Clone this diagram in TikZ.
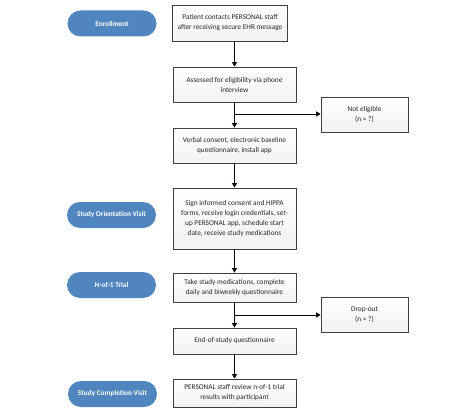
\documentclass[tikz,border=0pt]{standalone}
\usepackage{fontspec}
\setmainfont{Carlito}
\usetikzlibrary{arrows.meta,shapes.misc}
\definecolor{phase}{HTML}{4F86C0}
\definecolor{boxline}{HTML}{404040}
\tikzset{
  stepbox/.style={draw=boxline,line width=0.8pt,top color=white,bottom color=gray!10,
    align=center,font=\fontsize{7.3}{10}\selectfont,text=black!85,inner sep=1pt},
  phasebox/.style={rounded rectangle,fill=phase,text=white,font=\fontsize{7.3}{9}\selectfont\bfseries,
    minimum width=89pt,minimum height=26pt,inner sep=0pt},
  flow/.style={draw=black,line width=0.9pt,-{Triangle[length=4.5pt,width=5pt]}}
}
\begin{document}
\begin{tikzpicture}[x=1pt,y=-1pt]
\useasboundingbox (0,0) rectangle (474,420);
% main steps
\node[stepbox,minimum width=115pt,minimum height=36pt] (s1) at (230,23) {Patient contacts PERSONAL staff\\after receiving secure EHR message};
\node[stepbox,minimum width=123pt,minimum height=35pt] (s2) at (234.5,84.5) {Assessed for eligibility via phone\\interview};
\node[stepbox,minimum width=123pt,minimum height=35pt] (s3) at (234.5,145.5) {Verbal consent, electronic baseline\\questionnaire, install app};
\node[stepbox,minimum width=123pt,minimum height=61pt] (s4) at (234.5,218.5) {Sign informed consent and HIPPA\\forms, receive login credentials, set-\\up PERSONAL app, schedule start\\date, receive study medications};
\node[stepbox,minimum width=123pt,minimum height=29pt] (s5) at (234.5,287.5) {Take study medications, complete\\daily and biweekly questionnaire};
\node[stepbox,minimum width=123pt,minimum height=26pt] (s6) at (234.5,341) {End-of-study questionnaire};
\node[stepbox,minimum width=123pt,minimum height=28pt] (s7) at (234.5,393) {PERSONAL staff review n-of-1 trial\\results with participant};
% side boxes
\node[stepbox,minimum width=87pt,minimum height=35pt] (ne) at (364.5,114.5) {Not eligible\\(n = ?)};
\node[stepbox,minimum width=87pt,minimum height=35pt] (do) at (364.5,314.5) {Drop-out\\(n = ?)};
% phases
\node[phasebox] (p1) at (112,23.5) {Enrollment};
\node[phasebox] (p2) at (111.5,215) {Study Orientation Visit};
\node[phasebox] (p3) at (111.5,285) {N-of-1 Trial};
\node[phasebox] (p4) at (112.5,394) {Study Completion Visit};
% connectors
\draw[flow] (s1.south -| s2.north) -- (s2.north);
\draw[flow] (s2) -- (s3);
\draw[flow] (s3) -- (s4);
\draw[flow] (s4) -- (s5);
\draw[flow] (s5) -- (s6);
\draw[flow] (s6) -- (s7);
\coordinate (j1) at (234.5,114);
\draw[flow] (j1) -- (ne.west |- j1);
\coordinate (j2) at (234.5,315);
\draw[flow] (j2) -- (do.west |- j2);
\end{tikzpicture}
\end{document}
